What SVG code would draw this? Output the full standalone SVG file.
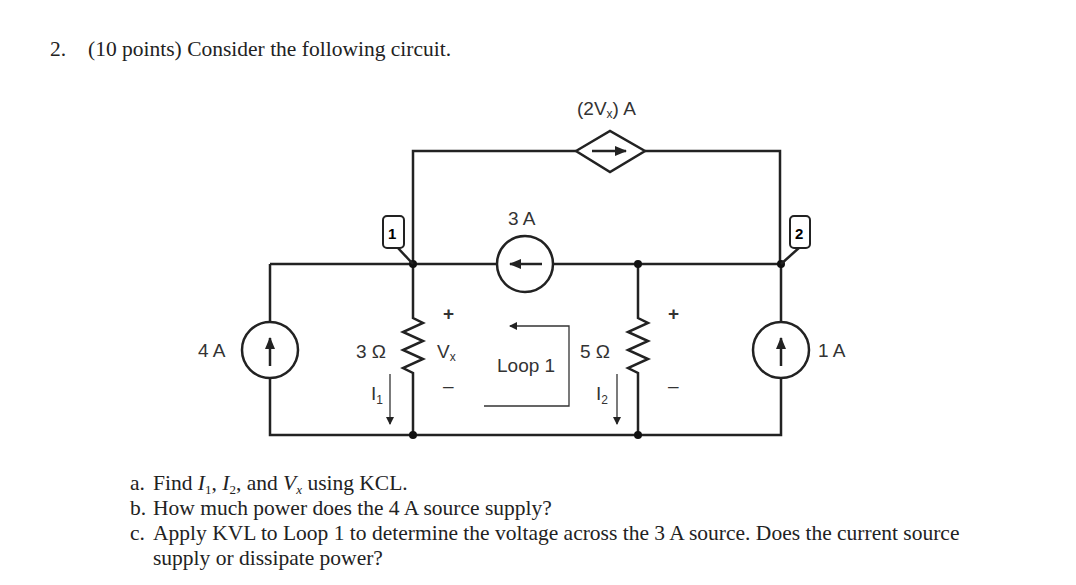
<svg xmlns="http://www.w3.org/2000/svg" width="1076" height="585" viewBox="0 0 1076 585">
<style>
.w{stroke:#222;stroke-width:2.5;fill:none}
.s{font-family:"Liberation Serif",serif;font-size:21.5px;fill:#222}
.l{font-family:"Liberation Sans",Arial,sans-serif;font-size:19px;fill:#333}
.t{stroke:#333;stroke-width:1.3;fill:none}
</style>
<defs>
<marker id="a" markerWidth="8" markerHeight="8" refX="7" refY="4" orient="auto" markerUnits="userSpaceOnUse"><path d="M0,0L8,4L0,8z" fill="#222"/></marker>
<marker id="b" markerWidth="12" markerHeight="10" refX="11" refY="5" orient="auto" markerUnits="userSpaceOnUse"><path d="M0,0L12,5L0,10z" fill="#222"/></marker>
</defs>
<rect width="1076" height="585" fill="#fff"/>
<text class="s" x="50" y="56">2.</text>
<text class="s" x="88" y="56">(10 points) Consider the following circuit.</text>
<g id="connectors">
<path class="w" d="M270,264V322M270,378V435H781V378M781,322V264H670M780,264V151H645M576,151H413V264M270,264H497M553,264H670"/>
<path class="w" d="M413,264V318l10,5l-20,9l20,9l-20,9l20,9l-20,9l10,5V435"/>
<path class="w" d="M638,264V318l10,5l-20,9l20,9l-20,9l20,9l-20,9l10,5V435"/>
<circle cx="413" cy="264" r="4" fill="#111"/><circle cx="638" cy="264" r="4" fill="#111"/><circle cx="781" cy="264" r="4" fill="#111"/>
<circle cx="413" cy="435" r="4" fill="#111"/><circle cx="638" cy="435" r="4" fill="#111"/>
</g>
<g id="src4A"><circle class="w" cx="270" cy="350" r="28"/><line class="w" x1="270" y1="366" x2="270" y2="338" marker-end="url(#b)"/><text class="l" x="198" y="357">4 A</text></g>
<g id="src3A"><circle class="w" cx="525" cy="264" r="28"/><line class="w" x1="542" y1="264" x2="510" y2="264" marker-end="url(#b)"/><text class="l" x="508" y="225">3 A</text></g>
<g id="src1A"><circle class="w" cx="781" cy="350" r="28"/><line class="w" x1="781" y1="366" x2="781" y2="338" marker-end="url(#b)"/><text class="l" x="818" y="357">1 A</text></g>
<g id="dep"><path class="w" d="M576,151L610,131L645,151L610,172z"/><line class="w" x1="592" y1="151" x2="626" y2="151" marker-end="url(#b)"/><text class="l" x="577" y="115">(2V<tspan font-size="12" dy="3">x</tspan><tspan dy="-3">) A</tspan></text></g>
<g id="r3"><text class="l" x="356" y="358">3 Ω</text><text class="l" x="371" y="400">I<tspan font-size="12" dy="4">1</tspan></text><line class="t" x1="390" y1="374" x2="390" y2="424" marker-end="url(#a)"/>
<text class="l" x="443" y="320" font-weight="bold" font-size="15">+</text><text class="l" x="437" y="358">V<tspan font-size="12" dy="3">x</tspan></text><text class="l" x="443" y="392">–</text></g>
<g id="r5"><text class="l" x="580" y="358">5 Ω</text><text class="l" x="596" y="400">I<tspan font-size="12" dy="4">2</tspan></text><line class="t" x1="617" y1="374" x2="617" y2="424" marker-end="url(#a)"/>
<text class="l" x="668" y="320" font-weight="bold" font-size="15">+</text><text class="l" x="668" y="392">–</text></g>
<g id="loop1"><path class="t" d="M484,406H569V326H510" marker-end="url(#a)"/><text class="l" x="497" y="372">Loop 1</text></g>
<g id="n1"><path class="w" stroke-width="2" d="M397,247L413,264"/><rect x="383" y="216" width="21" height="32" rx="4" fill="#fff" stroke="#222" stroke-width="2"/><text x="388" y="239" font-family="Liberation Sans,sans-serif" font-weight="bold" font-size="15">1</text></g>
<g id="n2"><path class="w" stroke-width="2" d="M800,247L781,264"/><rect x="790" y="216" width="20" height="32" rx="4" fill="#fff" stroke="#222" stroke-width="2"/><text x="795" y="239" font-family="Liberation Sans,sans-serif" font-weight="bold" font-size="15">2</text></g>
<g class="s">
<text x="130" y="490">a.</text><text x="153" y="490">Find <tspan font-style="italic">I</tspan><tspan font-size="13" dy="4">1</tspan><tspan dy="-4">, </tspan><tspan font-style="italic">I</tspan><tspan font-size="13" dy="4">2</tspan><tspan dy="-4">, and </tspan><tspan font-style="italic">V</tspan><tspan font-size="13" font-style="italic" dy="4">x</tspan><tspan dy="-4"> using KCL.</tspan></text>
<text x="130" y="515">b.</text><text x="153" y="515">How much power does the 4 A source supply?</text>
<text x="130" y="540">c.</text><text x="153" y="540">Apply KVL to Loop 1 to determine the voltage across the 3 A source. Does the current source</text>
<text x="153" y="565">supply or dissipate power?</text>
</g>
</svg>
